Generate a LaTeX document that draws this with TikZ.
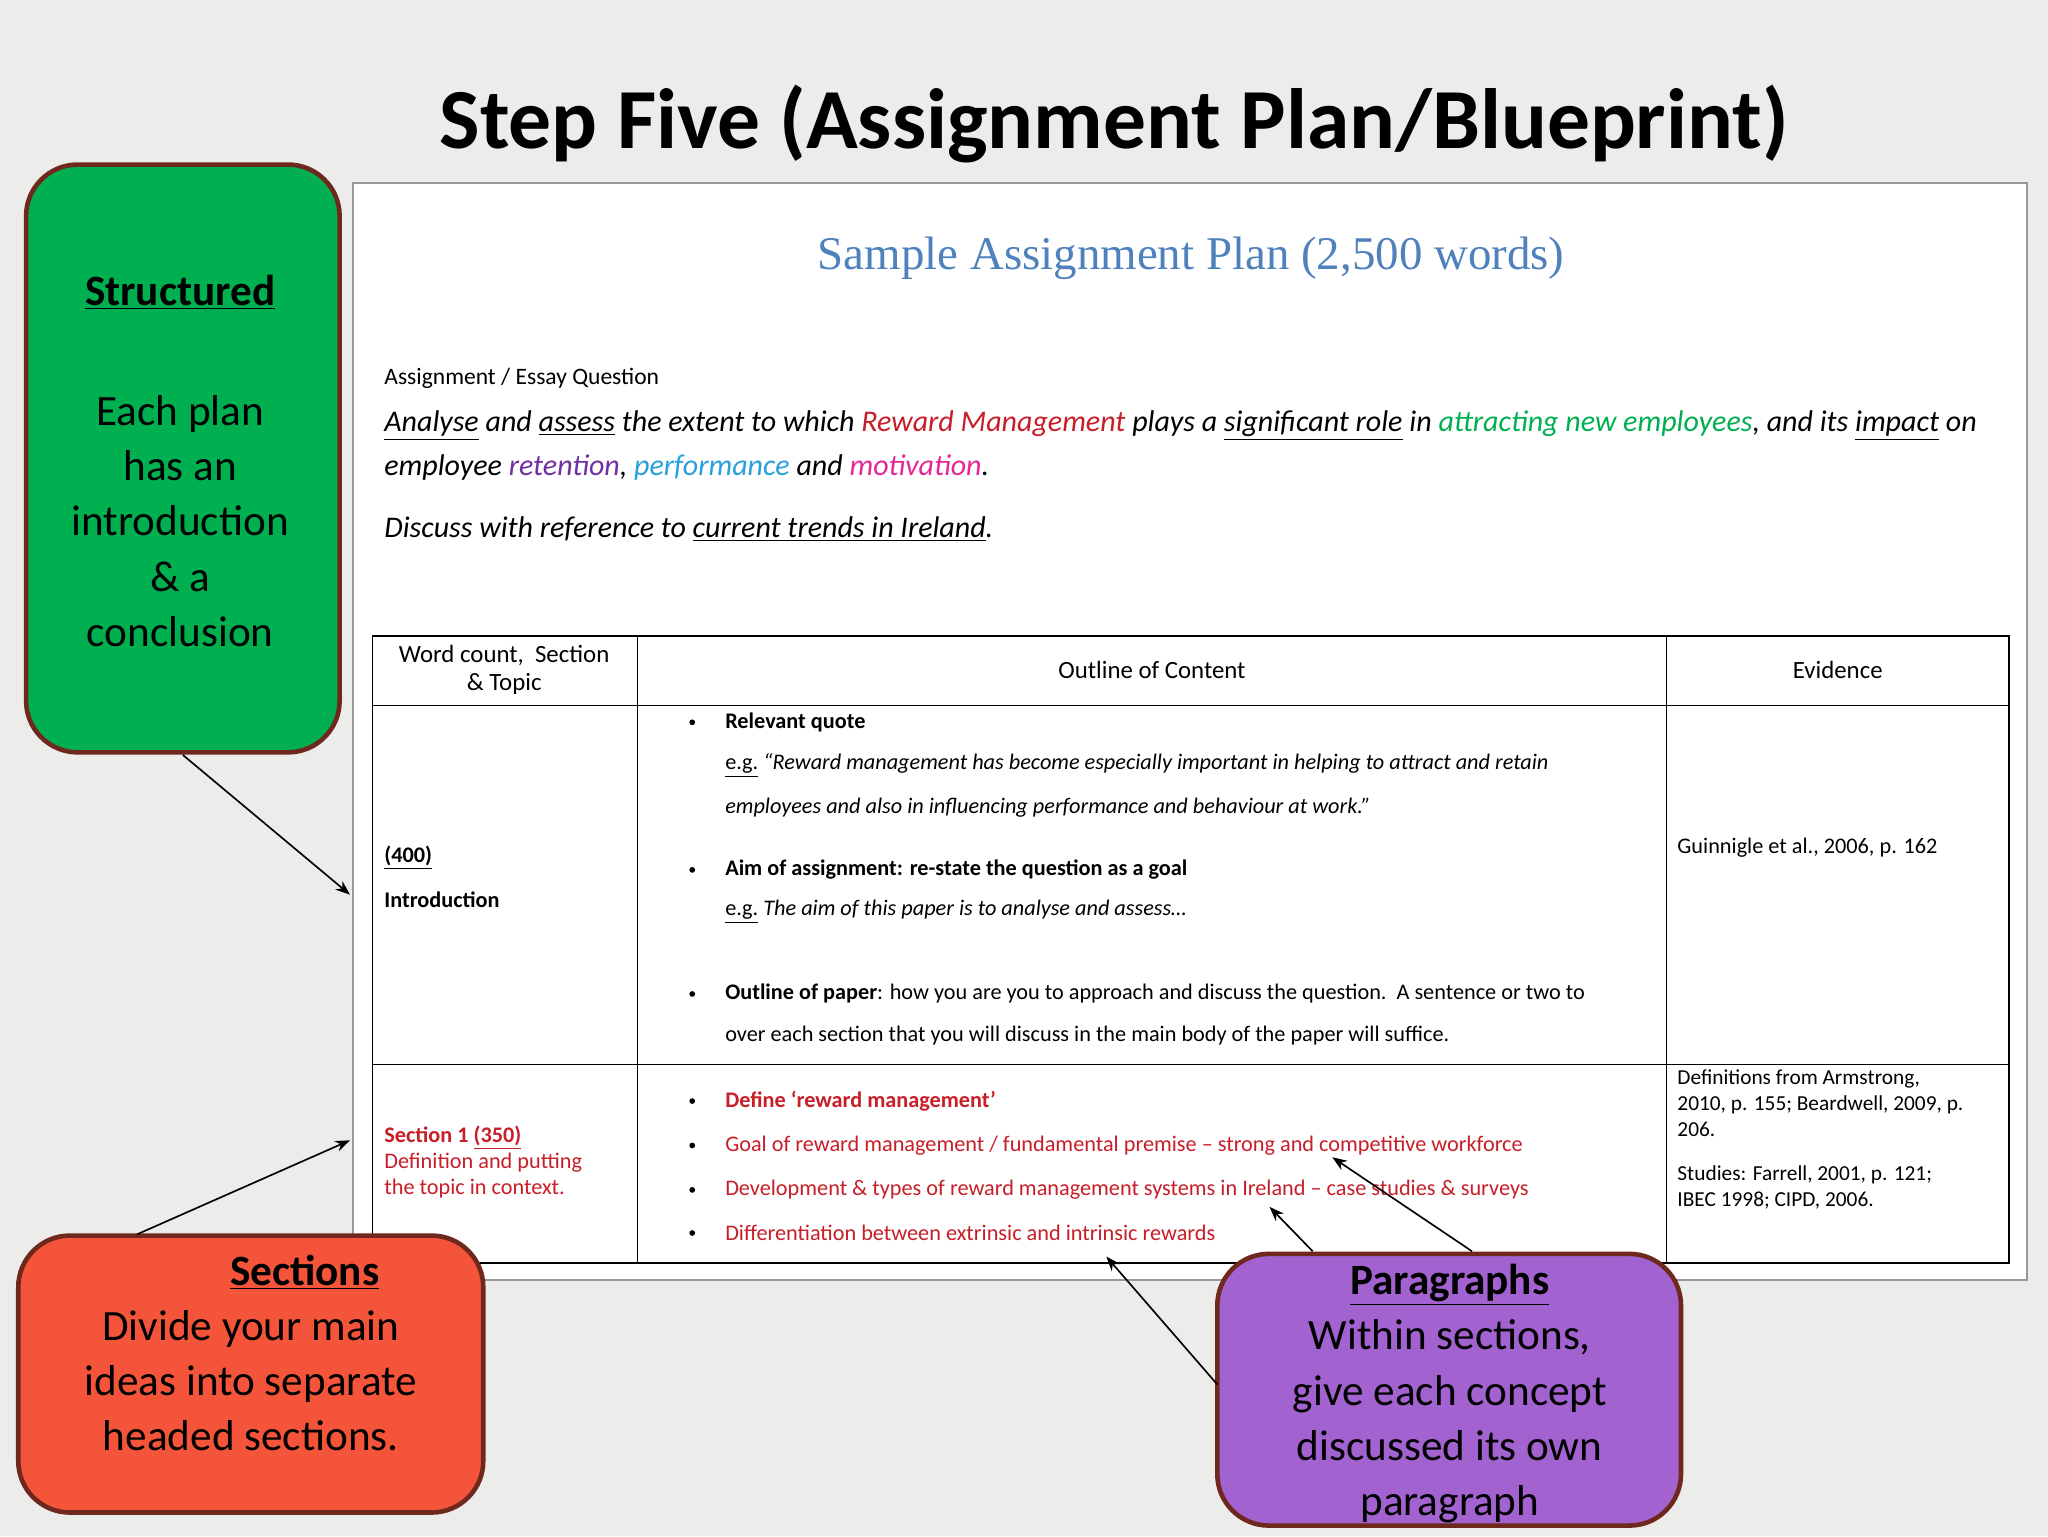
\documentclass[tikz,border=0pt]{standalone}
\usepackage{fontspec}
\setmainfont{Carlito}
\newfontfamily\serifsample{Liberation Serif}
\usetikzlibrary{arrows.meta}
\definecolor{bggray}{RGB}{236,236,234}
\definecolor{gbox}{RGB}{0,176,80}
\definecolor{rbox}{RGB}{244,85,58}
\definecolor{pbox}{RGB}{162,98,208}
\definecolor{bord}{RGB}{110,40,30}
\definecolor{sblue}{RGB}{79,129,189}
\definecolor{dred}{RGB}{200,30,40}
\definecolor{tgreen}{RGB}{0,176,80}
\definecolor{tcyan}{RGB}{40,160,220}
\definecolor{tpink}{RGB}{230,40,150}
\definecolor{tpurple}{RGB}{112,48,160}
\tikzset{
 callout/.style={draw=bord,line width=2.5pt,rounded corners=28},
 arr/.style={-{Stealth[length=8pt]},line width=0.9pt},
 tx/.style={anchor=west,inner sep=0,font=\fontsize{12.8}{14}\selectfont},
 sm/.style={anchor=west,inner sep=0,font=\fontsize{12.1}{14}\selectfont},
 qt/.style={anchor=west,inner sep=0,font=\itshape\fontsize{16.3}{18}\selectfont},
 ctext/.style={align=center,font=\fontsize{23.5}{30}\selectfont},
}
\begin{document}
\begin{tikzpicture}[x=0.71pt,y=-0.71pt]
\fill[bggray] (0,0) rectangle (1568,1176);
\node[font=\bfseries\fontsize{46.5}{52}\selectfont] (title) at (853,95) {Step Five (Assignment Plan/Blueprint)};
\draw[fill=white,draw=gray!80,line width=1pt] (270,140) rectangle (1552,980);
\node[font=\serifsample\fontsize{25.5}{30}\selectfont,text=sblue] (st) at (912,198) {Sample Assignment Plan (2,500 words)};
\node[tx] (q0) at (294,290) {Assignment / Essay Question};
\node[qt] (q1) at (294,326) {\underline{Analyse} and \underline{assess} the extent to which \textcolor{dred}{Reward Management} plays a \underline{significant role} in \textcolor{tgreen}{attracting new employees}, and its \underline{impact} on};
\node[qt] (q2) at (294,358) {employee \textcolor{tpurple}{retention}, \textcolor{tcyan}{performance} and \textcolor{tpink}{motivation}.};
\node[qt] (q3) at (294,405) {Discuss with reference to \underline{current trends in Ireland}.};
% table
\draw[line width=0.8pt] (285,487) rectangle (1538,967);
\draw[line width=0.8pt] (488,487) -- (488,967) (1276,487) -- (1276,967) (285,540) -- (1538,540) (285,815) -- (1538,815);
\node[align=center,font=\fontsize{13.5}{15}\selectfont] (h1) at (386,513) {Word count,\ \ Section\\\& Topic};
\node[font=\fontsize{13.5}{15}\selectfont] (h2) at (882,513) {Outline of Content};
\node[font=\fontsize{13.5}{15}\selectfont] (h3) at (1407,513) {Evidence};
\node[sm] (c1) at (294,657) {\underline{\bfseries(400)}};
\node[sm] (c2) at (294,689) {\bfseries Introduction};
\foreach \y in {553,666,761,843,877,911,944} \fill (530,\y) circle (2.2);
\node[sm] (r1) at (555,553) {\bfseries Relevant quote};
\node[sm] (r2) at (555,586) {\underline{e.g.} \itshape “Reward management has become especially important in helping to attract and retain};
\node[sm] (r3) at (555,618) {\itshape employees and also in influencing performance and behaviour at work.”};
\node[sm] (r4) at (555,666) {\bfseries Aim of assignment: re-state the question as a goal};
\node[sm] (r5) at (555,698) {\underline{e.g.} \itshape The aim of this paper is to analyse and assess…};
\node[sm] (r6) at (555,761) {\bfseries Outline of paper\mdseries: how you are you to approach and discuss the question.\ \ A sentence or two to};
\node[sm] (r7) at (555,793) {over each section that you will discuss in the main body of the paper will suffice.};
\node[sm] (e1) at (1284,649) {Guinnigle et al., 2006, p. 162};
\node[sm,text=dred,align=left,anchor=north west] (s1) at (294,862) {\bfseries Section 1 \underline{(350)}\\Definition and putting\\the topic in context.};
\node[sm,text=dred] (p1) at (555,843) {\bfseries Define ‘reward management’};
\node[sm,text=dred] (p2) at (555,877) {Goal of reward management / fundamental premise – strong and competitive workforce};
\node[sm,text=dred] (p3) at (555,911) {Development \& types of reward management systems in Ireland – case studies \& surveys};
\node[sm,text=dred] (p4) at (555,944) {Differentiation between extrinsic and intrinsic rewards};
\node[sm,align=left,anchor=north west,font=\fontsize{11.6}{14}\selectfont] (e2) at (1284,819) {Definitions from Armstrong,\\2010, p. 155; Beardwell, 2009, p.\\206.\\[10pt]Studies: Farrell, 2001, p. 121;\\IBEC 1998; CIPD, 2006.};
% callouts
\path[callout,fill=gbox] (20,126) rectangle (260,576);
\node[ctext] (gt) at (138,353) {\textbf{\underline{Structured}}\\[35pt]Each plan\\has an\\introduction\\\& a\\conclusion};
\path[callout,fill=rbox] (14,946) rectangle (370,1158);
\node[ctext] (rt) at (192,1036) {\hspace*{2.5em}\textbf{\underline{Sections}}\\Divide your main\\ideas into separate\\headed sections.};
\path[callout,fill=pbox] (932,960) rectangle (1287,1168);
\node[ctext] (pt) at (1110,1067) {\textbf{\underline{Paragraphs}}\\Within sections,\\give each concept\\discussed its own\\paragraph};
% arrows
\coordinate (a1s) at (140,578); \coordinate (a1e) at (268,685);
\coordinate (a2s) at (105,945); \coordinate (a2e) at (268,873);
\coordinate (a3s) at (1127,958); \coordinate (a3e) at (1020,886);
\coordinate (a4s) at (1005,958); \coordinate (a4e) at (972,924);
\coordinate (a5s) at (932,1060); \coordinate (a5e) at (847,962);
\draw[arr] (a1s) -- (a1e);
\draw[arr] (a2s) -- (a2e);
\draw[arr] (a3s) -- (a3e);
\draw[arr] (a4s) -- (a4e);
\draw[arr] (a5s) -- (a5e);
\end{tikzpicture}
\end{document}
